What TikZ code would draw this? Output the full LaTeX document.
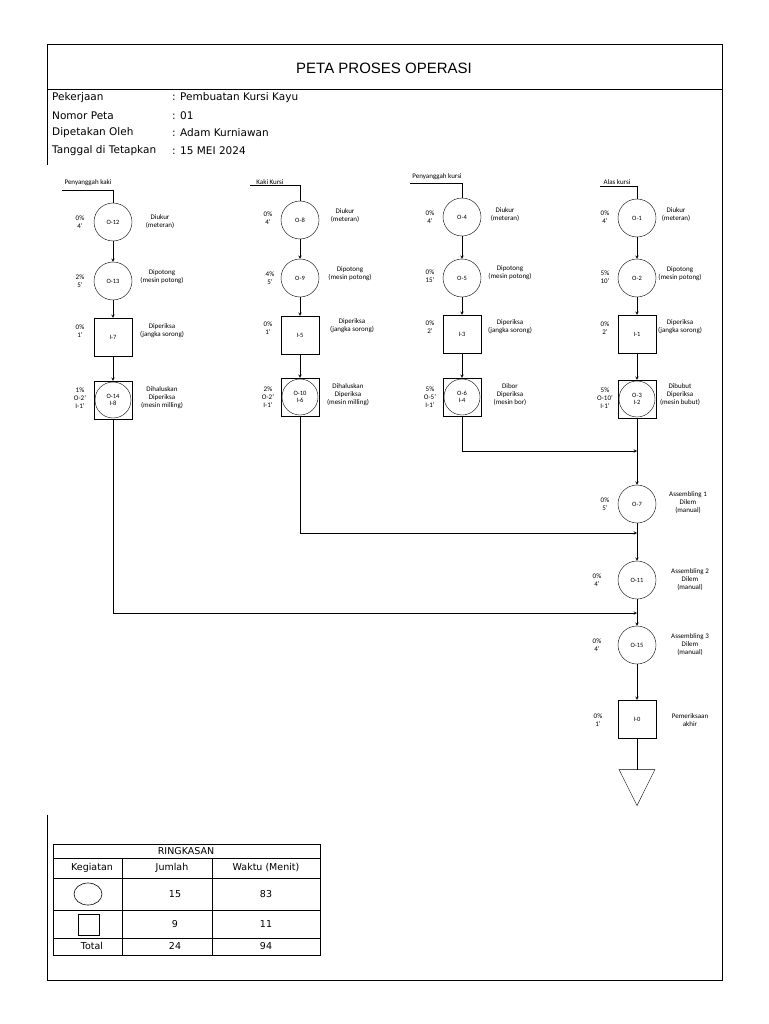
\documentclass[tikz,border=0pt]{standalone}
\usepackage{fontspec}
\setmainfont{Carlito}
\newfontfamily\hdr{DejaVu Sans}
\newfontfamily\ttl{Liberation Sans}
\usetikzlibrary{shapes.geometric}
\begin{document}
\begin{tikzpicture}[x=1pt,y=-1pt,
  op/.style={circle,draw,minimum size=38pt,inner sep=0pt,font=\fontsize{6.5}{7.5}\selectfont,align=center},
  ins/.style={rectangle,draw,minimum size=38pt,inner sep=0pt,font=\fontsize{6.5}{7.5}\selectfont},
  lab/.style={font=\fontsize{7}{8}\selectfont,align=center,inner sep=0pt},
  flow/.style={draw,line width=0.5pt,->,>=stealth},
  ln/.style={draw,line width=0.5pt}]
\useasboundingbox (0,0) rectangle (768,1024);
\fill[white] (0,0) rectangle (768,1024);
% frame
\draw[line width=0.6pt] (47,165) -- (47,44) -- (722,44) -- (722,980) -- (47,980) -- (47,815);
\draw[line width=0.6pt] (47,89) -- (722,89);
\node[font=\ttl\fontsize{15}{17}\selectfont] (title) at (384,68) {PETA PROSES OPERASI};
\begin{scope}[every node/.style={anchor=west,font=\hdr\fontsize{10.5}{12}\selectfont,inner sep=0pt}]
\node (h1) at (52,98) {Pekerjaan}; \node (v1) at (172,98) {: Pembuatan Kursi Kayu};
\node (h2) at (52,116) {Nomor Peta}; \node (v2) at (172,116) {: 01};
\node (h3) at (52,133) {Dipetakan Oleh}; \node (v3) at (172,133) {: Adam Kurniawan};
\node (h4) at (52,151) {Tanggal di Tetapkan}; \node (v4) at (172,151) {: 15 MEI 2024};
\end{scope}
% Column 1
\node[lab] (t1) at (88,183) {Penyanggah kaki};
\coordinate (s1) at (62,190); \coordinate (k1) at (113,190);
\node[op] (o12) at (113,222) {O-12};
\node[op] (o13) at (113,281) {O-13};
\node[ins] (i7) at (113,337) {I-7};
\node[ins] (i8) at (113,400) {}; \node[op,minimum size=36pt] (o14) at (113,400) {O-14\\I-8};
\path[ln] (s1) -- (k1) -- (o12);
\path[flow] (o12) -- (o13); \path[flow] (o13) -- (i7); \path[flow] (i7) -- (i8);
\node[lab] at (80,222) {0\%\\4'}; \node[lab] at (160,222) {Diukur\\(meteran)};
\node[lab] at (80,281) {2\%\\5'}; \node[lab] at (162,277) {Dipotong\\(mesin potong)};
\node[lab] at (80,331) {0\%\\1'}; \node[lab] at (162,331) {Diperiksa\\(jangka sorong)};
\node[lab] at (80,398) {1\%\\O-2'\\I-1'}; \node[lab] at (162,398) {Dihaluskan\\Diperiksa\\(mesin milling)};
% Column 2
\node[lab] (t2) at (270,182) {Kaki Kursi};
\coordinate (s2) at (250,185); \coordinate (k2) at (300,185);
\node[op] (o8) at (300,220) {O-8};
\node[op] (o9) at (300,278) {O-9};
\node[ins] (i5) at (300,335) {I-5};
\node[ins] (i6) at (300,397) {}; \node[op,minimum size=36pt] (o10) at (300,397) {O-10\\I-6};
\path[ln] (s2) -- (k2) -- (o8);
\path[flow] (o8) -- (o9); \path[flow] (o9) -- (i5); \path[flow] (i5) -- (i6);
\node[lab] at (268,218) {0\%\\4'}; \node[lab] at (345,216) {Diukur\\(meteran)};
\node[lab] at (270,278) {4\%\\5'}; \node[lab] at (350,274) {Dipotong\\(mesin potong)};
\node[lab] at (268,328) {0\%\\1'}; \node[lab] at (352,326) {Diperiksa\\(jangka sorong)};
\node[lab] at (268,397) {2\%\\O-2'\\I-1'}; \node[lab] at (348,395) {Dihaluskan\\Diperiksa\\(mesin milling)};
% Column 3
\node[lab] (t3) at (437,177) {Penyanggah kursi};
\coordinate (s3) at (410,183); \coordinate (k3) at (462,183);
\node[op] (o4) at (462,217) {O-4};
\node[op] (o5) at (462,278) {O-5};
\node[ins] (i3) at (462,334) {I-3};
\node[ins] (i4) at (462,397) {}; \node[op,minimum size=36pt] (o6) at (462,397) {O-6\\I-4};
\path[ln] (s3) -- (k3) -- (o4);
\path[flow] (o4) -- (o5); \path[flow] (o5) -- (i3); \path[flow] (i3) -- (i4);
\node[lab] at (430,217) {0\%\\4'}; \node[lab] at (505,215) {Diukur\\(meteran)};
\node[lab] at (430,276) {0\%\\15'}; \node[lab] at (510,273) {Dipotong\\(mesin potong)};
\node[lab] at (430,327) {0\%\\2'}; \node[lab] at (510,327) {Diperiksa\\(jangka sorong)};
\node[lab] at (430,397) {5\%\\O-5'\\I-1'}; \node[lab] at (510,395) {Dibor\\Diperiksa\\(mesin bor)};
% Column 4
\node[lab] (t4) at (617,182) {Alas kursi};
\coordinate (s4) at (600,186); \coordinate (k4) at (637,186);
\node[op] (o1) at (637,218) {O-1};
\node[op] (o2) at (637,278) {O-2};
\node[ins] (i1) at (637,334) {I-1};
\node[ins] (i2) at (637,399) {}; \node[op,minimum size=36pt] (o3) at (637,399) {O-3\\I-2};
\path[ln] (s4) -- (k4) -- (o1);
\path[flow] (o1) -- (o2); \path[flow] (o2) -- (i1); \path[flow] (i1) -- (i2);
\node[lab] at (605,217) {0\%\\4'}; \node[lab] at (676,215) {Diukur\\(meteran)};
\node[lab] at (605,277) {5\%\\10'}; \node[lab] at (680,274) {Dipotong\\(mesin potong)};
\node[lab] at (605,328) {0\%\\2'}; \node[lab] at (680,327) {Diperiksa\\(jangka sorong)};
\node[lab] at (605,398) {5\%\\O-10'\\I-1'}; \node[lab] at (680,395) {Dibubut\\Diperiksa\\(mesin bubut)};
% assembly
\node[op] (o7) at (637,504) {O-7};
\node[op] (o11) at (637,580) {O-11};
\node[op] (o15) at (637,645) {O-15};
\node[ins] (i0) at (637,719) {I-0};
\node[draw,isosceles triangle,shape border rotate=-90,isosceles triangle apex angle=53,minimum height=36pt,inner sep=0pt,anchor=apex] (st) at (637,806) {};
\coordinate (m3) at (637,451); \coordinate (m2) at (637,533); \coordinate (m1) at (637,613);
\path[flow] (i4.south) |- (m3);
\path[flow] (i2) -- (o7);
\path[flow] (i6.south) |- (m2);
\path[flow] (o7) -- (o11);
\path[flow] (i8.south) |- (m1);
\path[flow] (o11) -- (o15);
\path[flow] (o15) -- (i0);
\draw[line width=0.5pt] (i0.south) -- (637,770);
\node[lab] at (605,504) {0\%\\5'}; \node[lab] at (688,503) {Assembling 1\\Dilem\\(manual)};
\node[lab] at (597,580) {0\%\\4'}; \node[lab] at (690,580) {Assembling 2\\Dilem\\(manual)};
\node[lab] at (597,645) {0\%\\4'}; \node[lab] at (690,645) {Assembling 3\\Dilem\\(manual)};
\node[lab] at (598,720) {0\%\\1'}; \node[lab] at (690,720) {Pemeriksaan\\akhir};
% summary table
\begin{scope}[line width=0.5pt]
\draw (53,844) rectangle (320,955);
\draw (53,858) -- (320,858); \draw (53,878) -- (320,878); \draw (53,910) -- (320,910); \draw (53,938) -- (320,938);
\draw (122,858) -- (122,955); \draw (212,858) -- (212,955);
\end{scope}
\begin{scope}[every node/.style={font=\hdr\fontsize{9.5}{11}\selectfont,inner sep=0pt}]
\node (rk) at (186,851) {RINGKASAN};
\node (kg) at (92,868) {Kegiatan}; \node (jm) at (172,868) {Jumlah}; \node (wk) at (266,868) {Waktu (Menit)};
\node (c15) at (175,894) {15}; \node (c83) at (266,894) {83};
\node (c9) at (175,924) {9}; \node (c11) at (266,924) {11};
\node (tt) at (92,946) {Total}; \node (c24) at (175,946) {24}; \node (c94) at (266,946) {94};
\end{scope}
\draw[line width=0.6pt] (88,894) ellipse (14pt and 11pt);
\draw[line width=0.6pt] (78,914) rectangle (99,935);
\end{tikzpicture}
\end{document}
